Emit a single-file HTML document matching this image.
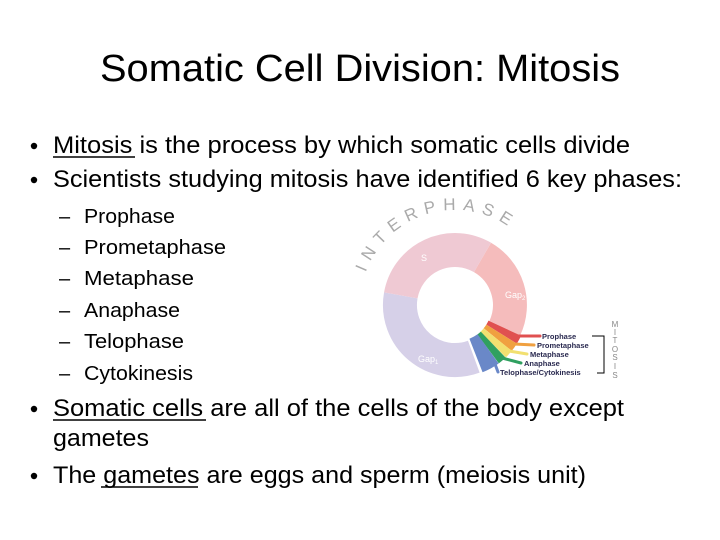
<!DOCTYPE html>
<html><head><meta charset="utf-8"><style>body{margin:0;background:#fff}svg{display:block}</style></head><body>
<svg width="720" height="540" viewBox="0 0 720 540" xmlns="http://www.w3.org/2000/svg" font-family="Liberation Sans, sans-serif">
<text x="100" y="81" font-size="38" textLength="520" lengthAdjust="spacingAndGlyphs" fill="#000">Somatic Cell Division: Mitosis</text>
<g fill="#000">
<circle cx="34" cy="146" r="3.2"/><circle cx="34" cy="180" r="3.2"/><circle cx="34" cy="409" r="3.2"/><circle cx="34" cy="476" r="3.2"/>
</g>
<g font-size="24" fill="#000">
<text x="53" y="153" textLength="577" lengthAdjust="spacingAndGlyphs">Mitosis is the process by which somatic cells divide</text>
<text x="53" y="187" textLength="629" lengthAdjust="spacingAndGlyphs">Scientists studying mitosis have identified 6 key phases:</text>
<text x="53" y="416" textLength="571" lengthAdjust="spacingAndGlyphs">Somatic cells are all of the cells of the body except</text>
<text x="53" y="446" textLength="96" lengthAdjust="spacingAndGlyphs">gametes</text>
<text x="53" y="483" textLength="533" lengthAdjust="spacingAndGlyphs">The gametes are eggs and sperm (meiosis unit)</text>
</g>
<g stroke="#000" stroke-width="1.5">
<line x1="53" y1="157" x2="135" y2="157"/>
<line x1="53" y1="420" x2="206" y2="420"/>
<line x1="101" y1="487" x2="198" y2="487"/>
</g>
<g font-size="20" fill="#000">
<text x="59" y="223">–</text><text x="84" y="223" textLength="91" lengthAdjust="spacingAndGlyphs">Prophase</text>
<text x="59" y="254">–</text><text x="84" y="254" textLength="142" lengthAdjust="spacingAndGlyphs">Prometaphase</text>
<text x="59" y="285">–</text><text x="84" y="285" textLength="110" lengthAdjust="spacingAndGlyphs">Metaphase</text>
<text x="59" y="317">–</text><text x="84" y="317" textLength="96" lengthAdjust="spacingAndGlyphs">Anaphase</text>
<text x="59" y="348">–</text><text x="84" y="348" textLength="100" lengthAdjust="spacingAndGlyphs">Telophase</text>
<text x="59" y="380">–</text><text x="84" y="380" textLength="109" lengthAdjust="spacingAndGlyphs">Cytokinesis</text>
</g>
<!-- cycle diagram -->
<g fill="none" stroke-width="34">
<path d="M482.5 257.4 A55 55 0 0 1 504.8 328.2" stroke="#f5bcbc"/>
<path d="M473.8 356.7 A55 55 0 0 1 400.8 295.4" stroke="#d6d0e8"/>
<path d="M400.8 295.4 A55 55 0 0 1 482.5 257.4" stroke="#efc9d3"/>
</g>
<g fill="none" stroke-width="36">
<path d="M504.8 328.2 A55 55 0 0 1 501.6 334.1" stroke="#e05050"/>
<path d="M501.6 334.1 A55 55 0 0 1 497.7 339.6" stroke="#f0a040"/>
<path d="M497.7 339.6 A55 55 0 0 1 493.2 344.6" stroke="#f2e070"/>
<path d="M493.2 344.6 A55 55 0 0 1 488.1 348.9" stroke="#30a060"/>
<path d="M488.1 348.9 A55 55 0 0 1 476 355.5" stroke="#6a88c8"/>
</g>
<g stroke-width="3" stroke-linecap="round">
<line x1="518" y1="336" x2="540" y2="336" stroke="#e05050"/>
<line x1="514" y1="344" x2="534" y2="345" stroke="#f0a040"/>
<line x1="509" y1="351" x2="527" y2="354" stroke="#f2e070"/>
<line x1="502" y1="358" x2="521" y2="363" stroke="#30a060"/>
<line x1="495" y1="364" x2="498" y2="372" stroke="#6a88c8"/>
</g>
<path id="ip" d="M365.7 272.5 A95 95 0 0 1 509.5 227.2" fill="none"/>
<text font-size="17" fill="#aaa" letter-spacing="7"><textPath href="#ip">INTERPHASE</textPath></text>
<g font-size="9" fill="#fff">
<text x="421" y="261">S</text><text x="505" y="298">Gap<tspan font-size="6" dy="2">2</tspan></text><text x="418" y="362">Gap<tspan font-size="6" dy="2">1</tspan></text>
</g>
<g font-size="7.5" font-weight="bold" fill="#2a2a50">
<text x="542" y="339">Prophase</text>
<text x="537" y="348">Prometaphase</text>
<text x="530" y="357">Metaphase</text>
<text x="524" y="366">Anaphase</text>
<text x="500" y="375">Telophase/Cytokinesis</text>
</g>
<path d="M592 336 H604 V373 H597" fill="none" stroke="#000" stroke-width="1"/>
<g font-size="8" fill="#888" text-anchor="middle">
<text x="615" y="327">M</text><text x="615" y="335">I</text><text x="615" y="343">T</text><text x="615" y="352">O</text><text x="615" y="360">S</text><text x="615" y="369">I</text><text x="615" y="378">S</text>
</g>
</svg>
</body></html>
